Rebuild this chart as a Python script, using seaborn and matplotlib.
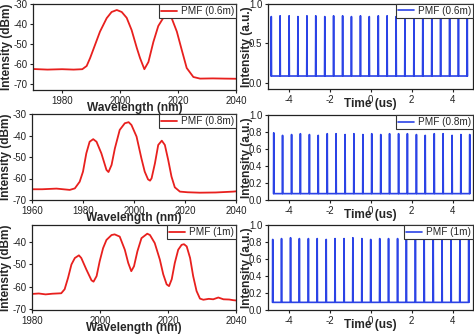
import numpy as np
import pandas as pd
import seaborn as sns
import matplotlib
matplotlib.use("Agg")
import matplotlib.pyplot as plt

sns.set_theme(style="ticks")
plt.rcParams["font.family"] = ["Liberation Sans", "DejaVu Sans"]
plt.rcParams["axes.unicode_minus"] = False

# ---- optical spectra (wavelength in nm, power in dBm) ----
wl_06 = [1970, 1975, 1980, 1984, 1987, 1988.5, 1989.7, 1991.4, 1993.1, 1995.4, 1997.1,
         1998.9, 2000.6, 2002.3, 2004.0, 2005.8, 2006.9, 2008.4, 2009.8, 2011.5,
         2013.2, 2014.9, 2016.4, 2017.8, 2019.6, 2021.3, 2023.0, 2025.3, 2027.6,
         2032, 2036, 2041]
dbm_06 = [-62.5, -62.8, -62.6, -62.8, -62.6, -61.0, -57.0, -50.4, -43.8, -37.1, -34.0,
          -33.0, -34.0, -36.9, -43.0, -52.0, -57.0, -62.6, -59.0, -49.0,
          -41.0, -37.0, -36.2, -37.0, -43.8, -53.0, -62.0, -66.5, -67.3,
          -67.2, -67.3, -67.4]

wl_08 = [1960, 1964, 1969.6, 1974.8, 1976.8, 1978.7, 1980.0, 1981.3, 1982.6, 1984.0,
         1985.3, 1987.2, 1989.2, 1990.0, 1991.2, 1992.5, 1994.4, 1996.4, 1997.9,
         1999.0, 2001.0, 2002.9, 2004.2, 2005.5, 2006.3, 2006.9, 2008.2, 2009.5,
         2010.9, 2012.1, 2013.4, 2014.7, 2016.0, 2018.0, 2021, 2025.8, 2032,
         2038.9, 2041.5]
dbm_08 = [-65.0, -65.0, -64.7, -65.3, -64.6, -61.5, -56.8, -48.3, -42.9, -41.7,
          -42.9, -48.3, -56.0, -57.0, -53.7, -46.0, -37.4, -34.3, -33.8,
          -35.1, -40.5, -50.6, -56.8, -60.4, -61.0, -59.9, -53.0, -44.4,
          -42.4, -44.4, -51.3, -59.1, -64.1, -66.1, -66.4, -66.6, -66.5,
          -66.1, -65.8]

wl_1 = [1980, 1982, 1984, 1986, 1988.6, 1989.6, 1990.6, 1991.6, 1992.6, 1993.8,
        1994.5, 1996.0, 1997.5, 1998.1, 1999.0, 1999.9, 2000.9, 2001.9, 2003.4,
        2004.3, 2005.8, 2007.3, 2008.3, 2009.2, 2010.0, 2011.0, 2012.2, 2013.9,
        2014.7, 2016.1, 2017.6, 2018.6, 2019.6, 2020.3, 2021.1, 2022.0, 2023.0,
        2024.0, 2024.7, 2025.5, 2026.5, 2027.4, 2028.4, 2029.4, 2030.4, 2032.0,
        2033.3, 2034.8, 2036.3, 2038.0, 2039.2, 2041.2]
dbm_1 = [-63.2, -63.0, -63.4, -63.1, -62.9, -61.1, -56.0, -50.0, -47.1, -45.9,
         -47.1, -52.3, -57.1, -57.7, -55.2, -48.6, -42.7, -39.0, -36.8,
         -36.5, -37.5, -43.4, -49.3, -53.0, -50.8, -44.1, -38.2, -36.2,
         -36.8, -40.4, -47.8, -54.4, -58.9, -59.7, -56.6, -49.3, -43.4,
         -41.2, -40.9, -41.9, -47.1, -55.2, -61.9, -65.3, -65.8, -65.4,
         -65.6, -64.8, -65.6, -65.7, -66.0, -66.3]

# ---- pulse trains (time in us, peak intensity in a.u.) ----
t_06 = [-4.84, -4.41, -3.97, -3.54, -3.10, -2.67, -2.23, -1.80, -1.36, -0.93, -0.49,
        -0.06, 0.38, 0.81, 1.25, 1.68, 2.12, 2.55, 2.99, 3.42, 3.86, 4.29, 4.72]
pk_06 = [0.84, 0.85, 0.85, 0.84, 0.85, 0.85, 0.84, 0.85, 0.85, 0.84, 0.85,
         0.84, 0.85, 0.85, 0.84, 0.85, 0.84, 0.85, 0.85, 0.84, 0.85, 0.84, 0.85]
base_06 = 0.085

t_08 = [-4.72, -4.29, -3.85, -3.42, -2.98, -2.55, -2.11, -1.68, -1.24, -0.81, -0.37,
        0.06, 0.50, 0.93, 1.37, 1.80, 2.24, 2.67, 3.11, 3.54, 3.98, 4.41, 4.84]
pk_08 = [0.79, 0.76, 0.77, 0.78, 0.77, 0.76, 0.78, 0.78, 0.77, 0.78, 0.77,
         0.78, 0.77, 0.78, 0.78, 0.78, 0.77, 0.76, 0.78, 0.78, 0.76, 0.77, 0.77]
base_08 = 0.075

t_1 = [-4.77, -4.34, -3.90, -3.47, -3.03, -2.60, -2.16, -1.73, -1.29, -0.86, -0.42,
       0.01, 0.45, 0.88, 1.32, 1.75, 2.19, 2.62, 3.06, 3.49, 3.93, 4.36, 4.79]
pk_1 = [0.83, 0.84, 0.85, 0.84, 0.84, 0.84, 0.83, 0.84, 0.84, 0.85, 0.84,
        0.83, 0.84, 0.84, 0.84, 0.84, 0.84, 0.84, 0.84, 0.84, 0.85, 0.85, 0.84]
base_1 = 0.09

labels = ["PMF (0.6m)", "PMF (0.8m)", "PMF (1m)"]

RED = "#e8201e"
BLUE = "#2b43e6"
W, H = 474, 335

fig = plt.figure(figsize=(W / 100, H / 100), dpi=100)


def px_axes(x0, y0, x1, y1):
    return fig.add_axes([x0 / W, (H - y1) / H, (x1 - x0) / W, (y1 - y0) / H])


def style(ax):
    for s in ax.spines.values():
        s.set_color("#222222")
        s.set_linewidth(0.9)
    ax.tick_params(labelsize=7, length=2.5, width=0.8, pad=1.5, colors="#222222")
    ax.tick_params(axis="x", pad=1.5)


def add_legend(ax):
    leg = ax.legend(loc="upper right", borderaxespad=0, fontsize=7.2, frameon=True,
                    fancybox=False, framealpha=1, edgecolor="#333333",
                    borderpad=0.2, handletextpad=0.4, handlelength=1.6)
    leg.get_frame().set_linewidth(0.8)


def pulse_frame(times, peaks, base):
    xs, ys = [], []
    for t, p in zip(times, peaks):
        xs += [t - 0.012, t, t + 0.012]
        ys += [base, p, base]
    return pd.DataFrame({"t": xs, "v": ys})


spectra = [
    (wl_06, dbm_06, (1970, 2040), (-73, -30), [-70, -60, -50, -40, -30]),
    (wl_08, dbm_08, (1960, 2040), (-70, -30), [-70, -60, -50, -40, -30]),
    (wl_1, dbm_1, (1980, 2040), (-70.4, -32.3), [-70, -60, -50, -40]),
]
pulses = [
    (t_06, pk_06, base_06, (-0.08, 1.0), [0.0, 0.5, 1.0]),
    (t_08, pk_08, base_08, (0.0, 1.0), [0.0, 0.2, 0.4, 0.6, 0.8, 1.0]),
    (t_1, pk_1, base_1, (0.0, 1.0), [0.0, 0.2, 0.4, 0.6, 0.8, 1.0]),
]
left_boxes = [(33, 4, 236, 90), (32, 114, 236, 200), (32, 225, 236, 310)]
right_boxes = [(268, 4, 473, 89), (268, 115, 473, 200), (268, 225, 473, 310)]

for i in range(3):
    wl, dbm, xlim, ylim, yt = spectra[i]
    ax = px_axes(*left_boxes[i])
    sns.lineplot(x=wl, y=dbm, ax=ax, color=RED, linewidth=1.3, label=labels[i])
    ax.set_xlim(*xlim)
    ax.set_ylim(*ylim)
    ax.set_yticks(yt)
    ax.set_xticks(list(range(xlim[0] if xlim[0] % 20 == 0 else 1980, 2041, 20)))
    style(ax)
    ax.set_xlabel("Wavelength (nm)", fontsize=8.6, fontweight="bold", labelpad=-2.5)
    ax.set_ylabel("Intensity (dBm)", fontsize=8.6, fontweight="bold", labelpad=0)
    add_legend(ax)

    t, pk, base, ylim_r, yt_r = pulses[i]
    axr = px_axes(*right_boxes[i])
    df = pulse_frame(t, pk, base)
    sns.lineplot(data=df, x="t", y="v", ax=axr, color=BLUE, linewidth=1.2,
                 sort=False, estimator=None, label=labels[i])
    axr.set_xlim(-5, 5)
    axr.set_ylim(*ylim_r)
    axr.set_yticks(yt_r)
    axr.set_xticks([-4, -2, 0, 2, 4])
    style(axr)
    axr.set_xlabel("Time (us)", fontsize=8.6, fontweight="bold", labelpad=-5)
    axr.set_ylabel("Intensity (a.u.)", fontsize=8.6, fontweight="bold", labelpad=-3)
    add_legend(axr)

fig.savefig("out.png", dpi=100)
